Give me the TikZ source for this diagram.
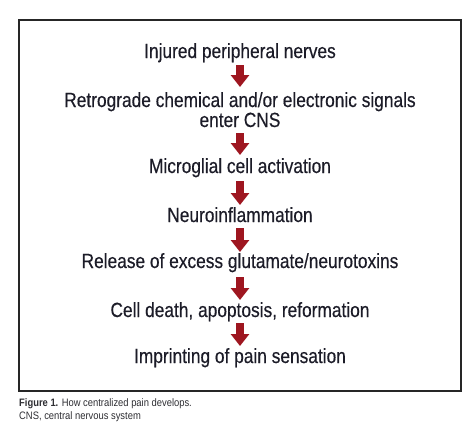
\documentclass[tikz,border=0pt]{standalone}
\usepackage{fontspec}
\setmainfont{Liberation Sans}[FakeStretch=0.845,FakeBold=0.4]
\newfontfamily\capfont{Liberation Sans}[FakeStretch=0.87]
\usetikzlibrary{arrows.meta}
\definecolor{arrowred}{RGB}{158,22,32}
\definecolor{txt}{RGB}{28,28,40}
\definecolor{captxt}{RGB}{45,45,50}
\begin{document}
\begin{tikzpicture}[x=1pt,y=-1pt,
  frame/.style={draw=black!85, line width=1.4pt},
  flow/.style={inner sep=0pt, text=txt, align=center, font=\fontsize{20.5}{20}\selectfont},
  captext/.style={inner sep=0pt, text=captxt, font=\capfont\fontsize{10.8}{13}\selectfont},
  blockarrow/.style={draw=arrowred, line width=8pt, -{Triangle[width=18pt,length=12pt,fill=arrowred]}}]
\useasboundingbox (0,0) rectangle (475,437);
\draw[frame] (19,20) rectangle (461,391);
\node[flow, anchor=base] (n1) at (240,58) {Injured peripheral nerves};
\node[flow, anchor=base] (n2) at (240,127) {Retrograde chemical and/or electronic signals\\enter CNS};
\node[flow, anchor=base] (n3) at (240,173) {Microglial cell activation};
\node[flow, anchor=base] (n4) at (240,222) {Neuroinflammation};
\node[flow, anchor=base] (n5) at (240,268) {Release of excess glutamate/neurotoxins};
\node[flow, anchor=base] (n6) at (240,317) {Cell death, apoptosis, reformation};
\node[flow, anchor=base] (n7) at (240,363) {Imprinting of pain sensation};
\draw[blockarrow] ([yshift=-7pt]n1.base) -- ([yshift=40pt]n2.base);
\draw[blockarrow] ([yshift=-6pt]n2.base) -- ([yshift=18pt]n3.base);
\draw[blockarrow] ([yshift=-8pt]n3.base) -- ([yshift=17pt]n4.base);
\draw[blockarrow] ([yshift=-6pt]n4.base) -- ([yshift=16pt]n5.base);
\draw[blockarrow] ([yshift=-9pt]n5.base) -- ([yshift=17pt]n6.base);
\draw[blockarrow] ([yshift=-6pt]n6.base) -- ([yshift=17pt]n7.base);
\node[captext, anchor=base west] (cap1) at (19,406) {\textbf{Figure 1.} How centralized pain develops.};
\node[captext, anchor=base west] (cap2) at (19,419.5) {CNS, central nervous system};
\end{tikzpicture}
\end{document}
